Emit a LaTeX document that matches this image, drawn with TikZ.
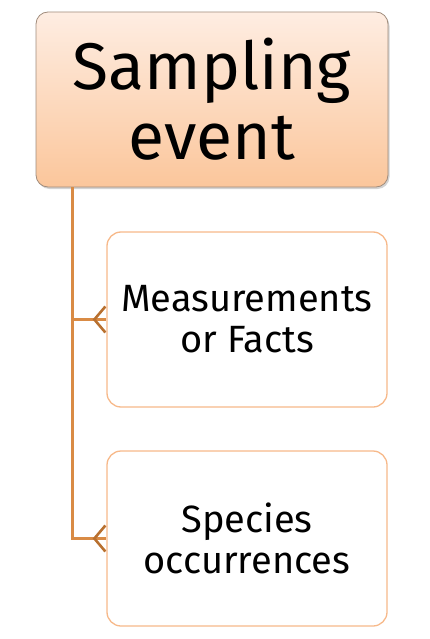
\documentclass[tikz,border=0pt]{standalone}
\usepackage{fontspec}
\setmainfont{Fira Sans}
\usetikzlibrary{shadows,arrows.meta}
\definecolor{topA}{HTML}{FEEDE2}
\definecolor{topB}{HTML}{FBC69B}
\definecolor{topBorder}{HTML}{A08C7C}
\definecolor{conn}{HTML}{D98B45}
\definecolor{tipc}{HTML}{B8702F}
\definecolor{boxBorder}{HTML}{F7B98A}
\tikzset{
  x=1pt,y=-1pt,
  parentbox/.style={draw=topBorder, line width=0.8pt, rounded corners=12pt, top color=topA, bottom color=topB,
    minimum width=352pt, minimum height=175pt, align=center, inner sep=0pt,
    drop shadow={shadow xshift=1.5pt, shadow yshift=-2pt, opacity=0.35},
    font=\fontsize{66}{70}\selectfont},
  childbox/.style={draw=boxBorder, line width=1.3pt, rounded corners=14pt, fill=white,
    minimum width=280pt, minimum height=175pt, align=center, inner sep=0pt,
    font=\fontsize{38}{41}\selectfont},
  connector/.style={draw=conn, line width=3pt},
  crow/.style={draw=tipc, line width=2.6pt}
}
\begin{document}
\begin{tikzpicture}
\useasboundingbox (0,0) rectangle (430,639);
\node[parentbox] (p) at (212,99.5) {Sampling\\event};
\node[childbox] (c1) at (247,319.5) {Measurements\\or Facts};
\node[childbox] (c2) at (247,538.5) {Species\\occurrences};
\coordinate (j0) at (72,187);
\coordinate (j1) at (72,319.5);
\coordinate (j2) at (72,538.5);
\draw[connector] (j0) -- (j2) -- (c2.west);
\draw[connector] (j1) -- (c1.west);
\draw[crow] ([xshift=-1pt,yshift=-13pt]c1.west) -- ([xshift=-12pt]c1.west) -- ([xshift=-1pt,yshift=13pt]c1.west);
\draw[crow] ([xshift=-1pt,yshift=-13pt]c2.west) -- ([xshift=-12pt]c2.west) -- ([xshift=-1pt,yshift=13pt]c2.west);
\end{tikzpicture}
\end{document}
